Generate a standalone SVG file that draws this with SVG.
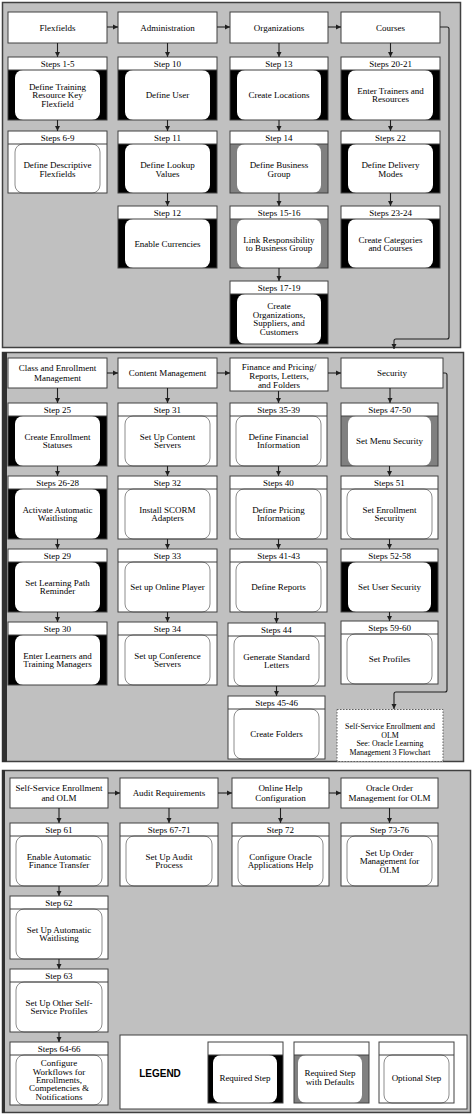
<svg xmlns="http://www.w3.org/2000/svg" width="474" height="1116" viewBox="0 0 474 1116" font-family="'Liberation Serif', 'DejaVu Serif', serif">
<style>
.panel{fill:#c0c0c0;stroke:#404040;stroke-width:1.5}
.hdr{fill:#fff;stroke:#404040;stroke-width:1}
.frame{fill:none;stroke:#404040;stroke-width:1}
.lbl{fill:#fff}
.req{fill:#000}
.def{fill:#808080}
.inner{fill:#fff}
.opt{fill:#fff;stroke:#707070;stroke-width:0.8}
.sep{stroke:#404040;stroke-width:1}
text{font-family:'Liberation Serif','DejaVu Serif',serif;font-size:9px;fill:#000;text-anchor:middle}
text.note{font-size:7.9px}
text.legend{font-family:'Liberation Sans Narrow','Liberation Sans',sans-serif;font-weight:bold;font-size:10px}
.conn{fill:none;stroke:#202020;stroke-width:1.1}
</style>
<defs>
<marker id="ah" markerWidth="6" markerHeight="6" refX="5" refY="3" orient="auto" markerUnits="userSpaceOnUse"><path d="M0,0.5 L5,3 L0,5.5 z" fill="#202020"/></marker>
</defs>
<rect x="0" y="0" width="474" height="1116" fill="#fff"/>
<rect class="panel" x="2.5" y="2.5" width="458" height="345"/>
<rect class="panel" x="2.5" y="352.5" width="461" height="409"/>
<rect x="2" y="352" width="5" height="410" fill="#303030"/>
<rect class="panel" x="2.5" y="770.5" width="468" height="342"/>
<rect x="2" y="770" width="3" height="343" fill="#303030"/>

<!-- Panel 1 headers -->
<g id="h-flexfields"><rect class="hdr" x="8" y="12" width="99" height="31"/><text x="57.5" y="30.5">Flexfields</text></g>
<g id="h-administration"><rect class="hdr" x="118" y="12" width="99" height="31"/><text x="167.5" y="30.5">Administration</text></g>
<g id="h-organizations"><rect class="hdr" x="230" y="12" width="98" height="31"/><text x="279" y="30.5">Organizations</text></g>
<g id="h-courses"><rect class="hdr" x="341" y="12" width="99" height="31"/><text x="390.5" y="30.5">Courses</text></g>

<!-- Panel 1 steps -->
<g id="s1-5"><rect class="req" x="8" y="70" width="99" height="50"/><rect class="inner" x="15" y="70" width="85" height="50" rx="8"/><rect class="lbl" x="8" y="57" width="99" height="13"/><rect class="frame" x="8" y="57" width="99" height="63"/><line class="sep" x1="8" y1="70" x2="107" y2="70"/><text x="57.5" y="67">Steps 1-5</text><text x="57.5" y="89.5">Define Training</text><text x="57.5" y="98">Resource Key</text><text x="57.5" y="106.5">Flexfield</text></g>
<g id="s6-9"><rect class="lbl" x="8" y="131" width="99" height="62"/><rect class="opt" x="15" y="144" width="85" height="49" rx="8"/><rect class="frame" x="8" y="131" width="99" height="62"/><line class="sep" x1="8" y1="144" x2="107" y2="144"/><text x="57.5" y="141">Steps 6-9</text><text x="57.5" y="168">Define Descriptive</text><text x="57.5" y="176.5">Flexfields</text></g>

<g id="s10"><rect class="req" x="118" y="70" width="99" height="50"/><rect class="inner" x="125" y="70" width="85" height="50" rx="8"/><rect class="lbl" x="118" y="57" width="99" height="13"/><rect class="frame" x="118" y="57" width="99" height="63"/><line class="sep" x1="118" y1="70" x2="217" y2="70"/><text x="167.5" y="67">Step 10</text><text x="167.5" y="98">Define User</text></g>
<g id="s11"><rect class="req" x="118" y="144" width="99" height="49"/><rect class="inner" x="125" y="144" width="85" height="49" rx="8"/><rect class="lbl" x="118" y="131" width="99" height="13"/><rect class="frame" x="118" y="131" width="99" height="62"/><line class="sep" x1="118" y1="144" x2="217" y2="144"/><text x="167.5" y="141">Step 11</text><text x="167.5" y="168">Define Lookup</text><text x="167.5" y="176.5">Values</text></g>
<g id="s12"><rect class="req" x="118" y="219" width="99" height="49"/><rect class="inner" x="125" y="219" width="85" height="49" rx="8"/><rect class="lbl" x="118" y="206" width="99" height="13"/><rect class="frame" x="118" y="206" width="99" height="62"/><line class="sep" x1="118" y1="219" x2="217" y2="219"/><text x="167.5" y="216">Step 12</text><text x="167.5" y="247">Enable Currencies</text></g>

<g id="s13"><rect class="req" x="230" y="70" width="98" height="50"/><rect class="inner" x="237" y="70" width="84" height="50" rx="8"/><rect class="lbl" x="230" y="57" width="98" height="13"/><rect class="frame" x="230" y="57" width="98" height="63"/><line class="sep" x1="230" y1="70" x2="328" y2="70"/><text x="279" y="67">Step 13</text><text x="279" y="98">Create Locations</text></g>
<g id="s14"><rect class="def" x="230" y="144" width="98" height="49"/><rect class="inner" x="237" y="144" width="84" height="49" rx="8"/><rect class="lbl" x="230" y="131" width="98" height="13"/><rect class="frame" x="230" y="131" width="98" height="62"/><line class="sep" x1="230" y1="144" x2="328" y2="144"/><text x="279" y="141">Step 14</text><text x="279" y="168">Define Business</text><text x="279" y="176.5">Group</text></g>
<g id="s15-16"><rect class="def" x="230" y="219" width="98" height="49"/><rect class="inner" x="237" y="219" width="84" height="49" rx="8"/><rect class="lbl" x="230" y="206" width="98" height="13"/><rect class="frame" x="230" y="206" width="98" height="62"/><line class="sep" x1="230" y1="219" x2="328" y2="219"/><text x="279" y="216">Steps 15-16</text><text x="279" y="242.75">Link Responsibility</text><text x="279" y="251.25">to Business Group</text></g>
<g id="s17-19"><rect class="req" x="230" y="294" width="98" height="50"/><rect class="inner" x="237" y="294" width="84" height="50" rx="8"/><rect class="lbl" x="230" y="281" width="98" height="13"/><rect class="frame" x="230" y="281" width="98" height="63"/><line class="sep" x1="230" y1="294" x2="328" y2="294"/><text x="279" y="291">Steps 17-19</text><text x="279" y="309.25">Create</text><text x="279" y="317.75">Organizations,</text><text x="279" y="326.25">Suppliers, and</text><text x="279" y="334.75">Customers</text></g>

<g id="s20-21"><rect class="req" x="341" y="70" width="99" height="50"/><rect class="inner" x="348" y="70" width="85" height="50" rx="8"/><rect class="lbl" x="341" y="57" width="99" height="13"/><rect class="frame" x="341" y="57" width="99" height="63"/><line class="sep" x1="341" y1="70" x2="440" y2="70"/><text x="390.5" y="67">Steps 20-21</text><text x="390.5" y="93.75">Enter Trainers and</text><text x="390.5" y="102.25">Resources</text></g>
<g id="s22"><rect class="req" x="341" y="144" width="99" height="49"/><rect class="inner" x="348" y="144" width="85" height="49" rx="8"/><rect class="lbl" x="341" y="131" width="99" height="13"/><rect class="frame" x="341" y="131" width="99" height="62"/><line class="sep" x1="341" y1="144" x2="440" y2="144"/><text x="390.5" y="141">Steps 22</text><text x="390.5" y="168">Define Delivery</text><text x="390.5" y="176.5">Modes</text></g>
<g id="s23-24"><rect class="req" x="341" y="219" width="99" height="49"/><rect class="inner" x="348" y="219" width="85" height="49" rx="8"/><rect class="lbl" x="341" y="206" width="99" height="13"/><rect class="frame" x="341" y="206" width="99" height="62"/><line class="sep" x1="341" y1="219" x2="440" y2="219"/><text x="390.5" y="216">Steps 23-24</text><text x="390.5" y="242.75">Create Categories</text><text x="390.5" y="251.25">and Courses</text></g>

<!-- Panel 2 headers -->
<g id="h-class"><rect class="hdr" x="8" y="358" width="99" height="30"/><text x="57.5" y="371">Class and Enrollment</text><text x="57.5" y="381">Management</text></g>
<g id="h-content"><rect class="hdr" x="118" y="358" width="99" height="30"/><text x="167.5" y="376">Content Management</text></g>
<g id="h-finance"><rect class="hdr" x="230" y="358" width="98" height="33"/><text x="279" y="369.5">Finance and Pricing/</text><text x="279" y="378.5">Reports, Letters,</text><text x="279" y="387.5">and Folders</text></g>
<g id="h-security"><rect class="hdr" x="341" y="358" width="102" height="30"/><text x="392" y="376">Security</text></g>

<!-- Panel 2 col1 -->
<g id="s25"><rect class="req" x="8" y="416" width="99" height="50"/><rect class="inner" x="15" y="416" width="85" height="50" rx="8"/><rect class="lbl" x="8" y="403" width="99" height="13"/><rect class="frame" x="8" y="403" width="99" height="63"/><line class="sep" x1="8" y1="416" x2="107" y2="416"/><text x="57.5" y="413">Step 25</text><text x="57.5" y="439.75">Create Enrollment</text><text x="57.5" y="448.25">Statuses</text></g>
<g id="s26-28"><rect class="req" x="8" y="489" width="99" height="50"/><rect class="inner" x="15" y="489" width="85" height="50" rx="8"/><rect class="lbl" x="8" y="476" width="99" height="13"/><rect class="frame" x="8" y="476" width="99" height="63"/><line class="sep" x1="8" y1="489" x2="107" y2="489"/><text x="57.5" y="486">Steps 26-28</text><text x="57.5" y="512.75">Activate Automatic</text><text x="57.5" y="521.25">Waitlisting</text></g>
<g id="s29"><rect class="req" x="8" y="562" width="99" height="50"/><rect class="inner" x="15" y="562" width="85" height="50" rx="8"/><rect class="lbl" x="8" y="549" width="99" height="13"/><rect class="frame" x="8" y="549" width="99" height="63"/><line class="sep" x1="8" y1="562" x2="107" y2="562"/><text x="57.5" y="559">Step 29</text><text x="57.5" y="585.75">Set Learning Path</text><text x="57.5" y="594.25">Reminder</text></g>
<g id="s30"><rect class="req" x="8" y="635" width="99" height="50"/><rect class="inner" x="15" y="635" width="85" height="50" rx="8"/><rect class="lbl" x="8" y="622" width="99" height="13"/><rect class="frame" x="8" y="622" width="99" height="63"/><line class="sep" x1="8" y1="635" x2="107" y2="635"/><text x="57.5" y="632">Step 30</text><text x="57.5" y="658.75">Enter Learners and</text><text x="57.5" y="667.25">Training Managers</text></g>

<!-- Panel 2 col2 -->
<g id="s31"><rect class="lbl" x="118" y="403" width="99" height="63"/><rect class="opt" x="125" y="416" width="85" height="50" rx="8"/><rect class="frame" x="118" y="403" width="99" height="63"/><line class="sep" x1="118" y1="416" x2="217" y2="416"/><text x="167.5" y="413">Step 31</text><text x="167.5" y="439.75">Set Up Content</text><text x="167.5" y="448.25">Servers</text></g>
<g id="s32"><rect class="lbl" x="118" y="476" width="99" height="63"/><rect class="opt" x="125" y="489" width="85" height="50" rx="8"/><rect class="frame" x="118" y="476" width="99" height="63"/><line class="sep" x1="118" y1="489" x2="217" y2="489"/><text x="167.5" y="486">Step 32</text><text x="167.5" y="512.75">Install SCORM</text><text x="167.5" y="521.25">Adapters</text></g>
<g id="s33"><rect class="lbl" x="118" y="549" width="99" height="63"/><rect class="opt" x="125" y="562" width="85" height="50" rx="8"/><rect class="frame" x="118" y="549" width="99" height="63"/><line class="sep" x1="118" y1="562" x2="217" y2="562"/><text x="167.5" y="559">Step 33</text><text x="167.5" y="590">Set up Online Player</text></g>
<g id="s34"><rect class="lbl" x="118" y="622" width="99" height="63"/><rect class="opt" x="125" y="635" width="85" height="50" rx="8"/><rect class="frame" x="118" y="622" width="99" height="63"/><line class="sep" x1="118" y1="635" x2="217" y2="635"/><text x="167.5" y="632">Step 34</text><text x="167.5" y="658.75">Set up Conference</text><text x="167.5" y="667.25">Servers</text></g>

<!-- Panel 2 col3 -->
<g id="s35-39"><rect class="lbl" x="230" y="403" width="97" height="63"/><rect class="opt" x="236" y="416" width="85" height="50" rx="8"/><rect class="frame" x="230" y="403" width="97" height="63"/><line class="sep" x1="230" y1="416" x2="327" y2="416"/><text x="278.5" y="413">Steps 35-39</text><text x="278.5" y="439.75">Define Financial</text><text x="278.5" y="448.25">Information</text></g>
<g id="s40"><rect class="lbl" x="230" y="476" width="97" height="63"/><rect class="opt" x="236" y="489" width="85" height="50" rx="8"/><rect class="frame" x="230" y="476" width="97" height="63"/><line class="sep" x1="230" y1="489" x2="327" y2="489"/><text x="278.5" y="486">Steps 40</text><text x="278.5" y="512.75">Define Pricing</text><text x="278.5" y="521.25">Information</text></g>
<g id="s41-43"><rect class="lbl" x="230" y="549" width="97" height="63"/><rect class="opt" x="236" y="562" width="85" height="50" rx="8"/><rect class="frame" x="230" y="549" width="97" height="63"/><line class="sep" x1="230" y1="562" x2="327" y2="562"/><text x="278.5" y="559">Steps 41-43</text><text x="278.5" y="590">Define Reports</text></g>
<g id="s44"><rect class="lbl" x="228" y="623" width="97" height="63"/><rect class="opt" x="234" y="636" width="85" height="50" rx="8"/><rect class="frame" x="228" y="623" width="97" height="63"/><line class="sep" x1="228" y1="636" x2="325" y2="636"/><text x="276.5" y="633">Steps 44</text><text x="276.5" y="659.75">Generate Standard</text><text x="276.5" y="668.25">Letters</text></g>
<g id="s45-46"><rect class="lbl" x="228" y="696" width="97" height="63"/><rect class="opt" x="234" y="709" width="85" height="50" rx="8"/><rect class="frame" x="228" y="696" width="97" height="63"/><line class="sep" x1="228" y1="709" x2="325" y2="709"/><text x="276.5" y="706">Steps 45-46</text><text x="276.5" y="737">Create Folders</text></g>

<!-- Panel 2 col4 -->
<g id="s47-50"><rect class="def" x="341" y="416" width="97" height="50"/><rect class="inner" x="348" y="416" width="83" height="50" rx="8"/><rect class="lbl" x="341" y="403" width="97" height="13"/><rect class="frame" x="341" y="403" width="97" height="63"/><line class="sep" x1="341" y1="416" x2="438" y2="416"/><text x="389.5" y="413">Steps 47-50</text><text x="389.5" y="444">Set Menu Security</text></g>
<g id="s51"><rect class="lbl" x="341" y="476" width="97" height="63"/><rect class="opt" x="347" y="489" width="85" height="50" rx="8"/><rect class="frame" x="341" y="476" width="97" height="63"/><line class="sep" x1="341" y1="489" x2="438" y2="489"/><text x="389.5" y="486">Steps 51</text><text x="389.5" y="512.75">Set Enrollment</text><text x="389.5" y="521.25">Security</text></g>
<g id="s52-58"><rect class="req" x="341" y="562" width="97" height="50"/><rect class="inner" x="348" y="562" width="83" height="50" rx="8"/><rect class="lbl" x="341" y="549" width="97" height="13"/><rect class="frame" x="341" y="549" width="97" height="63"/><line class="sep" x1="341" y1="562" x2="438" y2="562"/><text x="389.5" y="559">Steps 52-58</text><text x="389.5" y="590">Set User Security</text></g>
<g id="s59-60"><rect class="lbl" x="341" y="621" width="97" height="63"/><rect class="opt" x="347" y="634" width="85" height="50" rx="8"/><rect class="frame" x="341" y="621" width="97" height="63"/><line class="sep" x1="341" y1="634" x2="438" y2="634"/><text x="389.5" y="631">Steps 59-60</text><text x="389.5" y="662">Set Profiles</text></g>

<g id="note-ss"><rect x="337" y="709.5" width="106" height="52" fill="#fff" stroke="#606060" stroke-width="1" stroke-dasharray="1.5,1.5"/><text class="note" x="390" y="729">Self-Service Enrollment and</text><text class="note" x="390" y="737.5">OLM</text><text class="note" x="390" y="746">See: Oracle Learning</text><text class="note" x="390" y="754.5">Management 3 Flowchart</text></g>

<!-- Panel 3 headers -->
<g id="h-selfservice"><rect class="hdr" x="10" y="778" width="98" height="30"/><text x="59" y="791">Self-Service Enrollment</text><text x="59" y="801">and OLM</text></g>
<g id="h-audit"><rect class="hdr" x="120" y="778" width="98" height="30"/><text x="169" y="796">Audit Requirements</text></g>
<g id="h-help"><rect class="hdr" x="232" y="778" width="97" height="30"/><text x="280.5" y="791">Online Help</text><text x="280.5" y="801">Configuration</text></g>
<g id="h-order"><rect class="hdr" x="341" y="778" width="97" height="30"/><text x="389.5" y="791">Oracle Order</text><text x="389.5" y="801">Management for OLM</text></g>

<!-- Panel 3 steps -->
<g id="s61"><rect class="lbl" x="10" y="823" width="98" height="63"/><rect class="opt" x="16" y="836" width="86" height="50" rx="8"/><rect class="frame" x="10" y="823" width="98" height="63"/><line class="sep" x1="10" y1="836" x2="108" y2="836"/><text x="59" y="833">Step 61</text><text x="59" y="859.75">Enable Automatic</text><text x="59" y="868.25">Finance Transfer</text></g>
<g id="s62"><rect class="lbl" x="10" y="896" width="98" height="63"/><rect class="opt" x="16" y="909" width="86" height="50" rx="8"/><rect class="frame" x="10" y="896" width="98" height="63"/><line class="sep" x1="10" y1="909" x2="108" y2="909"/><text x="59" y="906">Step 62</text><text x="59" y="932.75">Set Up Automatic</text><text x="59" y="941.25">Waitlisting</text></g>
<g id="s63"><rect class="lbl" x="10" y="969" width="98" height="63"/><rect class="opt" x="16" y="982" width="86" height="50" rx="8"/><rect class="frame" x="10" y="969" width="98" height="63"/><line class="sep" x1="10" y1="982" x2="108" y2="982"/><text x="59" y="979">Step 63</text><text x="59" y="1005.75">Set Up Other Self-</text><text x="59" y="1014.25">Service Profiles</text></g>
<g id="s64-66"><rect class="lbl" x="10" y="1042" width="98" height="63"/><rect class="opt" x="16" y="1055" width="86" height="50" rx="8"/><rect class="frame" x="10" y="1042" width="98" height="63"/><line class="sep" x1="10" y1="1055" x2="108" y2="1055"/><text x="59" y="1052">Steps 64-66</text><text x="59" y="1066.4">Configure</text><text x="59" y="1074.7">Workflows for</text><text x="59" y="1083">Enrollments,</text><text x="59" y="1091.3">Competencies &amp;</text><text x="59" y="1099.6">Notifications</text></g>
<g id="s67-71"><rect class="lbl" x="120" y="823" width="98" height="63"/><rect class="opt" x="126" y="836" width="86" height="50" rx="8"/><rect class="frame" x="120" y="823" width="98" height="63"/><line class="sep" x1="120" y1="836" x2="218" y2="836"/><text x="169" y="833">Steps 67-71</text><text x="169" y="859.75">Set Up Audit</text><text x="169" y="868.25">Process</text></g>
<g id="s72"><rect class="lbl" x="232" y="823" width="97" height="63"/><rect class="opt" x="238" y="836" width="85" height="50" rx="8"/><rect class="frame" x="232" y="823" width="97" height="63"/><line class="sep" x1="232" y1="836" x2="329" y2="836"/><text x="280.5" y="833">Step 72</text><text x="280.5" y="859.75">Configure Oracle</text><text x="280.5" y="868.25">Applications Help</text></g>
<g id="s73-76"><rect class="lbl" x="341" y="823" width="97" height="63"/><rect class="opt" x="347" y="836" width="85" height="50" rx="8"/><rect class="frame" x="341" y="823" width="97" height="63"/><line class="sep" x1="341" y1="836" x2="438" y2="836"/><text x="389.5" y="833">Step 73-76</text><text x="389.5" y="855.5">Set Up Order</text><text x="389.5" y="864">Management for</text><text x="389.5" y="872.5">OLM</text></g>

<!-- Legend -->
<g id="legend">
<rect x="120" y="1035" width="347" height="74" fill="#fff" stroke="#404040" stroke-width="1"/>
<text class="legend" x="160" y="1077">LEGEND</text>
<g id="leg-required"><rect class="req" x="208" y="1055" width="75" height="48"/><rect class="inner" x="213" y="1055" width="64" height="48" rx="8"/><rect class="lbl" x="208" y="1042" width="75" height="13"/><rect class="frame" x="208" y="1042" width="75" height="61"/><line class="sep" x1="208" y1="1055" x2="283" y2="1055"/><text x="245" y="1081">Required Step</text></g>
<g id="leg-defaults"><rect class="def" x="294" y="1055" width="75" height="48"/><rect class="inner" x="298" y="1055" width="64" height="48" rx="8"/><rect class="lbl" x="294" y="1042" width="75" height="13"/><rect class="frame" x="294" y="1042" width="75" height="61"/><line class="sep" x1="294" y1="1055" x2="369" y2="1055"/><text x="330" y="1076">Required Step</text><text x="330" y="1085">with Defaults</text></g>
<g id="leg-optional"><rect class="lbl" x="379" y="1042" width="75" height="61"/><rect class="opt" x="384" y="1055" width="65" height="48" rx="8"/><rect class="frame" x="379" y="1042" width="75" height="61"/><line class="sep" x1="379" y1="1055" x2="454" y2="1055"/><text x="416.5" y="1081">Optional Step</text></g>
</g>

<!-- Connectors -->
<g id="connectors" class="conn" marker-end="url(#ah)">
<line x1="107" y1="27" x2="118" y2="27"/>
<line x1="217" y1="27" x2="230" y2="27"/>
<line x1="328" y1="27" x2="341" y2="27"/>
<line x1="57.5" y1="43" x2="57.5" y2="57"/>
<line x1="57.5" y1="120" x2="57.5" y2="131"/>
<line x1="167.5" y1="43" x2="167.5" y2="57"/>
<line x1="167.5" y1="120" x2="167.5" y2="131"/>
<line x1="167.5" y1="193" x2="167.5" y2="206"/>
<line x1="279" y1="43" x2="279" y2="57"/>
<line x1="279" y1="120" x2="279" y2="131"/>
<line x1="279" y1="193" x2="279" y2="206"/>
<line x1="279" y1="268" x2="279" y2="281"/>
<line x1="390.5" y1="43" x2="390.5" y2="57"/>
<line x1="390.5" y1="120" x2="390.5" y2="131"/>
<line x1="390.5" y1="193" x2="390.5" y2="206"/>
<path d="M440,27 H447 Q449,27 449,29 V337 Q449,339 447,339 H396 Q394,339 394,341 V349"/>
<line x1="107" y1="373" x2="118" y2="373"/>
<line x1="217" y1="373" x2="230" y2="373"/>
<line x1="328" y1="373" x2="341" y2="373"/>
<line x1="57.5" y1="388" x2="57.5" y2="403"/>
<line x1="57.5" y1="466" x2="57.5" y2="476"/>
<line x1="57.5" y1="539" x2="57.5" y2="549"/>
<line x1="57.5" y1="612" x2="57.5" y2="622"/>
<line x1="167.5" y1="388" x2="167.5" y2="403"/>
<line x1="167.5" y1="466" x2="167.5" y2="476"/>
<line x1="167.5" y1="539" x2="167.5" y2="549"/>
<line x1="167.5" y1="612" x2="167.5" y2="622"/>
<line x1="278.5" y1="391" x2="278.5" y2="403"/>
<line x1="278.5" y1="466" x2="278.5" y2="476"/>
<line x1="278.5" y1="539" x2="278.5" y2="549"/>
<line x1="276.5" y1="612" x2="276.5" y2="623"/>
<line x1="276.5" y1="686" x2="276.5" y2="696"/>
<line x1="390" y1="388" x2="390" y2="403"/>
<line x1="389.5" y1="466" x2="389.5" y2="476"/>
<line x1="389.5" y1="539" x2="389.5" y2="549"/>
<line x1="389.5" y1="612" x2="389.5" y2="621"/>
<path d="M443,373 H445 Q447,373 447,375 V690 Q447,692 445,692 H396 Q394,692 394,694 V709"/>
<line x1="108" y1="793" x2="120" y2="793"/>
<line x1="218" y1="793" x2="232" y2="793"/>
<line x1="329" y1="793" x2="341" y2="793"/>
<line x1="59" y1="808" x2="59" y2="823"/>
<line x1="59" y1="886" x2="59" y2="896"/>
<line x1="59" y1="959" x2="59" y2="969"/>
<line x1="59" y1="1032" x2="59" y2="1042"/>
<line x1="169" y1="808" x2="169" y2="823"/>
<line x1="280.5" y1="808" x2="280.5" y2="823"/>
<line x1="389.5" y1="808" x2="389.5" y2="823"/>
</g>
</svg>
